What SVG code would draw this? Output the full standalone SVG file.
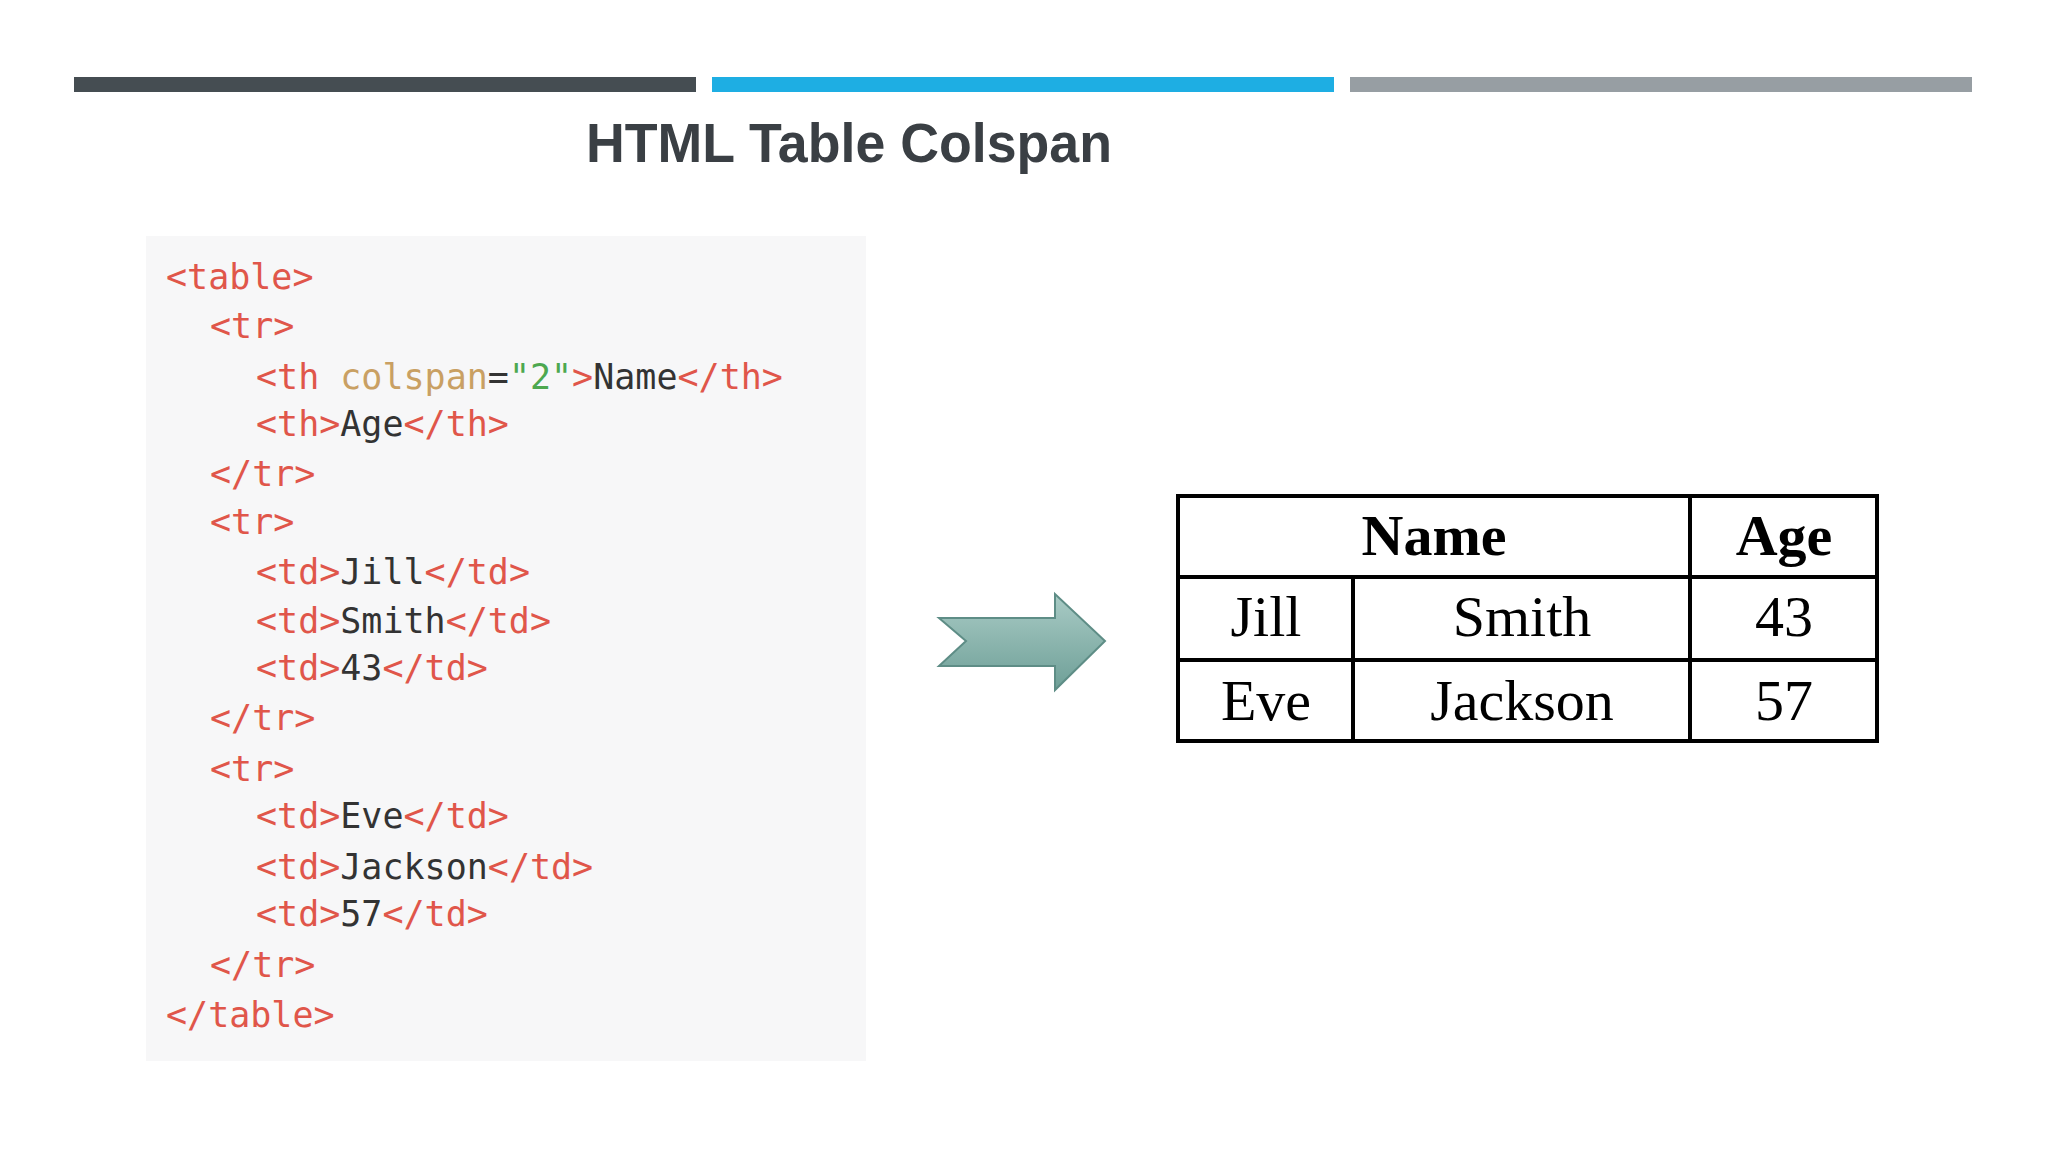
<svg xmlns="http://www.w3.org/2000/svg" width="2048" height="1152" viewBox="0 0 2048 1152">
<defs>
<style>
.c{font-family:"DejaVu Sans Mono",monospace;font-size:35px;fill:#333}
.t{fill:#e0564a}.a{fill:#c9a063}.v{fill:#4da84f}
.tb{font-family:"Liberation Serif",serif;font-size:58px;fill:#000;text-anchor:middle}
</style>
<linearGradient id="g" x1="0" y1="0" x2="0" y2="1"><stop offset="0" stop-color="#a9cbc5"/><stop offset="1" stop-color="#6e9f97"/></linearGradient>
</defs>
<rect width="2048" height="1152" fill="#fff"/>
<rect x="74" y="77" width="622" height="15" fill="#454d52"/>
<rect x="712" y="77" width="622" height="15" fill="#1eaee3"/>
<rect x="1350" y="77" width="622" height="15" fill="#979ea3"/>
<text x="849" y="162" text-anchor="middle" font-family="Liberation Sans,sans-serif" font-weight="bold" font-size="56" fill="#3a3f44" textLength="526" lengthAdjust="spacingAndGlyphs">HTML Table Colspan</text>
<g id="code">
<rect x="146" y="236" width="720" height="825" fill="#f7f7f8"/>
<text class="c" x="166" y="289"><tspan class="t">&lt;table&gt;</tspan></text>
<text class="c" x="210" y="338"><tspan class="t">&lt;tr&gt;</tspan></text>
<text class="c" x="256" y="389"><tspan class="t">&lt;th </tspan><tspan class="a">colspan</tspan>=<tspan class="v">"2"</tspan><tspan class="t">&gt;</tspan>Name<tspan class="t">&lt;/th&gt;</tspan></text>
<text class="c" x="256" y="436"><tspan class="t">&lt;th&gt;</tspan>Age<tspan class="t">&lt;/th&gt;</tspan></text>
<text class="c" x="210" y="486"><tspan class="t">&lt;/tr&gt;</tspan></text>
<text class="c" x="210" y="534"><tspan class="t">&lt;tr&gt;</tspan></text>
<text class="c" x="256" y="584"><tspan class="t">&lt;td&gt;</tspan>Jill<tspan class="t">&lt;/td&gt;</tspan></text>
<text class="c" x="256" y="633"><tspan class="t">&lt;td&gt;</tspan>Smith<tspan class="t">&lt;/td&gt;</tspan></text>
<text class="c" x="256" y="680"><tspan class="t">&lt;td&gt;</tspan>43<tspan class="t">&lt;/td&gt;</tspan></text>
<text class="c" x="210" y="730"><tspan class="t">&lt;/tr&gt;</tspan></text>
<text class="c" x="210" y="781"><tspan class="t">&lt;tr&gt;</tspan></text>
<text class="c" x="256" y="828"><tspan class="t">&lt;td&gt;</tspan>Eve<tspan class="t">&lt;/td&gt;</tspan></text>
<text class="c" x="256" y="879"><tspan class="t">&lt;td&gt;</tspan>Jackson<tspan class="t">&lt;/td&gt;</tspan></text>
<text class="c" x="256" y="926"><tspan class="t">&lt;td&gt;</tspan>57<tspan class="t">&lt;/td&gt;</tspan></text>
<text class="c" x="210" y="977"><tspan class="t">&lt;/tr&gt;</tspan></text>
<text class="c" x="166" y="1027"><tspan class="t">&lt;/table&gt;</tspan></text>
</g>
<g id="arrow">
<path d="M939,618 L1055,618 L1055,594 L1105,641 L1055,690 L1055,666 L939,666 L966,641 Z" fill="url(#g)" stroke="#5e8d86" stroke-width="2"/>
</g>
<g id="table" stroke="#000" stroke-width="4" fill="none">
<rect x="1178" y="496" width="699" height="245"/>
<line x1="1178" y1="577" x2="1877" y2="577"/>
<line x1="1178" y1="660" x2="1877" y2="660"/>
<line x1="1690" y1="496" x2="1690" y2="741"/>
<line x1="1353" y1="577" x2="1353" y2="741"/>
</g>
<g id="cells">
<text class="tb" x="1434" y="555" font-weight="bold">Name</text>
<text class="tb" x="1784" y="555" font-weight="bold">Age</text>
<text class="tb" x="1266" y="636">Jill</text>
<text class="tb" x="1522" y="636">Smith</text>
<text class="tb" x="1784" y="636">43</text>
<text class="tb" x="1266" y="720">Eve</text>
<text class="tb" x="1522" y="720">Jackson</text>
<text class="tb" x="1784" y="720">57</text>
</g>
</svg>
